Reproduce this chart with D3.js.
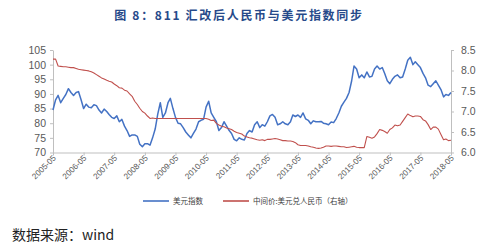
<!DOCTYPE html>
<html>
<head>
<meta charset="utf-8">
<script src="https://cdn.jsdelivr.net/npm/d3@7"></script>
<style>
  body { margin: 0; background: #fff; }
  svg { display: block; }
</style>
</head>
<body>
<svg id="chart" width="500" height="251"></svg>
<script>
/* 811 汇改后人民币与美元指数同步 - dual axis line chart */

const startMonth = '2005-05';
const xTickLabels = ['2005-05', '2006-05', '2007-05', '2008-05', '2009-05', '2010-05', '2011-05',
    '2012-05', '2013-05', '2014-05', '2015-05', '2016-05', '2017-05', '2018-05'];
const leftTicks = [70, 75, 80, 85, 90, 95, 100, 105];
const rightTicks = [6.0, 6.5, 7.0, 7.5, 8.0, 8.5];

// 美元指数 (monthly, 2005-05 .. 2018-05)
const usdIndex = [
    84.5, 88.0, 89.5, 87.0, 88.5, 89.8, 91.8, 90.5,
    89.5, 90.5, 90.8, 88.0, 85.0, 86.5, 85.5, 85.3, 86.3, 86.0, 84.5, 83.5,
    84.8, 84.0, 83.0, 82.0, 81.6, 82.5, 80.5, 81.3, 79.0, 77.5, 75.5, 76.0,
    76.0, 75.5, 72.8, 72.0, 73.0, 73.0, 72.5, 75.0, 78.0, 83.0, 87.0, 82.0,
    83.5, 87.0, 88.5, 85.0, 82.0, 80.0, 79.8, 78.5, 77.0, 76.0, 75.0, 76.5,
    78.0, 80.5, 81.0, 81.3, 85.5, 87.5, 83.5, 82.0, 80.5, 77.5, 78.5, 80.5,
    79.0, 77.5, 76.5, 74.5, 74.0, 75.0, 74.5, 74.3, 76.5, 77.5, 77.0, 79.5,
    80.5, 78.5, 79.5, 79.0, 80.5, 82.5, 83.0, 82.0, 79.5, 79.8, 80.5, 79.8,
    79.5, 80.5, 82.8, 82.3, 82.8, 82.0, 83.5, 81.5, 81.0, 79.8, 80.8, 80.5,
    80.5, 80.6, 80.0, 79.8, 79.5, 80.4, 80.2, 81.6, 83.5, 85.8, 87.2, 88.5,
    90.5, 94.5, 99.5, 98.5, 95.5, 96.5, 95.5, 97.5, 95.8, 96.0, 98.5, 99.5,
    98.5, 99.0, 97.0, 94.5, 93.5, 95.0, 96.0, 96.5, 95.5, 95.8, 98.5, 101.5,
    102.5, 100.0, 101.0, 100.0, 99.0, 97.0, 95.5, 93.0, 92.5, 93.5, 94.5, 93.0,
    91.5, 89.0, 89.8, 89.5, 90.5
];

// 中间价:美元兑人民币 (monthly, right axis)
const usdCny = [
    8.277, 8.277, 8.11, 8.10, 8.09, 8.09, 8.08, 8.07,
    8.07, 8.05, 8.03, 8.02, 8.01, 8.00, 7.99, 7.97, 7.94, 7.90, 7.86, 7.82,
    7.79, 7.76, 7.74, 7.72, 7.67, 7.63, 7.58, 7.57, 7.52, 7.50, 7.43, 7.37,
    7.25, 7.17, 7.08, 7.00, 6.96, 6.89, 6.83, 6.84, 6.83, 6.83, 6.83, 6.83,
    6.83, 6.83, 6.83, 6.83, 6.83, 6.83, 6.83, 6.83, 6.83, 6.83, 6.83, 6.83,
    6.83, 6.83, 6.83, 6.83, 6.83, 6.81, 6.78, 6.79, 6.71, 6.67, 6.64, 6.63,
    6.60, 6.58, 6.56, 6.52, 6.49, 6.47, 6.45, 6.40, 6.38, 6.36, 6.35, 6.33,
    6.31, 6.30, 6.31, 6.29, 6.32, 6.32, 6.33, 6.34, 6.33, 6.31, 6.29, 6.29,
    6.28, 6.28, 6.27, 6.24, 6.19, 6.17, 6.17, 6.17, 6.16, 6.14, 6.13, 6.11,
    6.10, 6.11, 6.13, 6.16, 6.16, 6.15, 6.16, 6.16, 6.15, 6.14, 6.14, 6.12,
    6.13, 6.14, 6.15, 6.13, 6.12, 6.12, 6.12, 6.39, 6.37, 6.35, 6.38, 6.46,
    6.56, 6.54, 6.51, 6.47, 6.56, 6.60, 6.67, 6.65, 6.67, 6.76, 6.85, 6.94,
    6.90, 6.87, 6.89, 6.89, 6.88, 6.80, 6.77, 6.68, 6.56, 6.62, 6.62, 6.57,
    6.44, 6.31, 6.33, 6.29, 6.30
];

const parseMonth = d3.timeParse('%Y-%m');
const start = parseMonth(startMonth);
const months = usdIndex.map((v, i) => d3.timeMonth.offset(start, i));

const svg = d3.select('#chart');
const plot = { left: 53, right: 451, top: 50, bottom: 152.5 };
const axisColor = '#bfbfbf';
const labelColor = '#595959';
const blue = '#4472c4';
const red = '#c0504d';

// Scales
const x = d3.scaleTime()
    .domain([parseMonth(xTickLabels[0]), parseMonth(xTickLabels[xTickLabels.length - 1])])
    .range([plot.left, plot.right]);
const yLeft = d3.scaleLinear().domain([70, 105]).range([plot.bottom, plot.top]);
const yRight = d3.scaleLinear().domain([6.0, 8.5]).range([plot.bottom, plot.top]);

// Title
svg.append('text')
    .attr('x', 239)
    .attr('y', 20)
    .attr('text-anchor', 'middle')
    .style('font-family', '"Noto Sans CJK SC", sans-serif')
    .style('font-weight', 'bold')
    .style('font-size', '12px')
    .style('letter-spacing', '1.7px')
    .attr('fill', '#274a8a')
    .text('图 8：811 汇改后人民币与美元指数同步');

// Axes
function styleAxis(g) {
    g.select('.domain').attr('stroke', axisColor);
    g.selectAll('.tick line').attr('stroke', axisColor);
    g.selectAll('.tick text').attr('fill', labelColor);
}

svg.append('g')
    .attr('transform', `translate(${plot.left},0)`)
    .call(d3.axisLeft(yLeft).tickValues(leftTicks).tickSize(3).tickSizeOuter(0).tickPadding(4))
    .call(styleAxis)
    .selectAll('text')
    .style('font-family', '"Liberation Sans", Arial, sans-serif')
    .style('font-size', '10.5px');

svg.append('g')
    .attr('transform', `translate(${plot.right},0)`)
    .call(d3.axisRight(yRight).tickValues(rightTicks).tickFormat(d3.format('.1f')).tickSize(3).tickSizeOuter(0).tickPadding(7))
    .call(styleAxis)
    .selectAll('text')
    .style('font-family', '"Liberation Sans", Arial, sans-serif')
    .style('font-size', '10.5px');

const xAxisG = svg.append('g')
    .attr('transform', `translate(0,${plot.bottom})`)
    .call(d3.axisBottom(x).tickValues(xTickLabels.map(parseMonth)).tickFormat(d3.timeFormat('%Y-%m')).tickSize(3).tickSizeOuter(0))
    .call(styleAxis);

xAxisG.selectAll('.tick text')
    .attr('text-anchor', 'end')
    .attr('dy', null)
    .attr('y', 0)
    .attr('transform', 'translate(3,6) rotate(-45)')
    .style('font-family', '"Liberation Sans", Arial, sans-serif')
    .style('font-size', '8.2px');

// Lines
const usdLine = d3.line()
    .x((d, i) => x(months[i]))
    .y(d => yLeft(d));

const cnyLine = d3.line()
    .x((d, i) => x(months[i]))
    .y(d => yRight(d));

svg.append('path')
    .datum(usdIndex)
    .attr('fill', 'none')
    .attr('stroke', blue)
    .attr('stroke-width', 1.5)
    .attr('stroke-linejoin', 'round')
    .attr('d', usdLine);

svg.append('path')
    .datum(usdCny)
    .attr('fill', 'none')
    .attr('stroke', red)
    .attr('stroke-width', 1.1)
    .attr('stroke-linejoin', 'round')
    .attr('d', cnyLine);

// Legend
const legendItems = [
    { label: '美元指数', color: blue, x: 143 },
    { label: '中间价:美元兑人民币（右轴）', color: red, x: 223 }
];

const legend = svg.append('g').attr('transform', 'translate(0,201)');
legendItems.forEach(item => {
    legend.append('line')
        .attr('x1', item.x).attr('x2', item.x + 26)
        .attr('y1', 0).attr('y2', 0)
        .attr('stroke', item.color)
        .attr('stroke-width', 1.6);
    legend.append('text')
        .attr('x', item.x + 30)
        .attr('y', 3)
        .style('font-family', '"Noto Sans CJK SC", sans-serif')
        .style('font-size', '7.5px')
        .attr('fill', '#404040')
        .text(item.label);
});

// Source
svg.append('text')
    .attr('x', 12)
    .attr('y', 240)
    .style('font-family', '"Noto Sans CJK SC", sans-serif')
    .style('font-size', '14px')
    .attr('fill', '#222')
    .text('数据来源：wind');
</script>
</body>
</html>
